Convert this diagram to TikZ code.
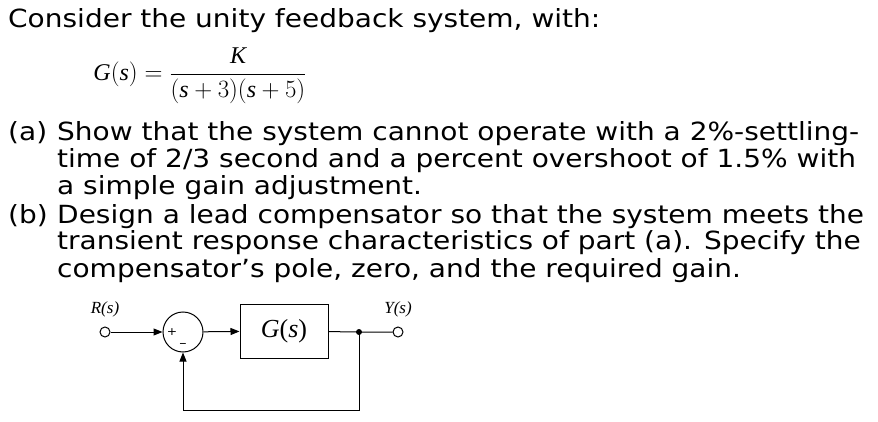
\documentclass[tikz,border=0pt]{standalone}
\usepackage{fontspec}
\setmainfont[FakeStretch=1.12]{DejaVu Sans}
\newfontfamily\tms{Liberation Serif}
\usetikzlibrary{arrows.meta}
\begin{document}
\begin{tikzpicture}[x=1pt,y=-1pt,
  txt/.style={anchor=base west,inner sep=0pt,font=\fontsize{25}{29}\selectfont},
  lbl/.style={inner sep=0pt,font=\fontsize{17}{20}\tms\itshape},
  sig/.style={line width=1pt,-{Triangle[length=9pt,width=7pt]}},
  wire/.style={line width=1pt},
  term/.style={circle,draw,line width=1pt,minimum size=10pt,inner sep=0pt,fill=white}]
\useasboundingbox (0,0) rectangle (878,422);
\node[txt] (t0) at (8,28) {Consider the unity feedback system, with:};
\node[inner sep=0pt,font=\fontsize{24}{28}\tms] (eq) at (200,76) {$\displaystyle \textit{G}(\textit{s})=\frac{\textit{K}}{(\textit{s}+3)(\textit{s}+5)}$};
\node[txt] (a0) at (8,141) {(a)};
\node[txt] (a1) at (57,141) {Show that the system cannot operate with a 2\%-settling-};
\node[txt] (a2) at (57,168) {time of 2/3 second and a percent overshoot of 1.5\% with};
\node[txt] (a3) at (57,195) {a simple gain adjustment.};
\node[txt] (b0) at (8,223) {(b)};
\node[txt] (b1) at (57,223) {Design a lead compensator so that the system meets the};
\node[txt] (b2) at (57,250) {transient response characteristics of part (a). Specify the};
\node[txt] (b3) at (57,277) {compensator’s pole, zero, and the required gain.};
% block diagram
\node[term] (in) at (105,332) {};
\node[circle,draw,line width=1pt,minimum size=40pt,inner sep=0pt] (sum) at (183,332) {};
\node[draw,line width=1pt,minimum width=88pt,minimum height=54pt,inner sep=0pt,font=\fontsize{26}{30}\tms] (G) at (284,331) {\textit{G}(\textit{s})};
\coordinate (j) at (359,332);
\node[term] (out) at (398,332) {};
\node[lbl] (R) at (105,309) {\textit{R}(\textit{s})};
\node[lbl] (Y) at (398,309) {\textit{Y}(\textit{s})};
\node[inner sep=0pt,font=\fontsize{11}{12}\selectfont] (pl) at (172,332) {+};
\node[inner sep=0pt,font=\fontsize{13}{12}\selectfont] (mi) at (183,345) {–};
\draw[sig] (in) -- (sum);
\draw[sig] (sum) -- (G);
\draw[wire] (G) -- (j) -- (out);
\fill (j) circle (3pt);
\coordinate (bl) at (183,410);
\draw[sig] (j) |- (bl) -- (sum.south);
\end{tikzpicture}
\end{document}
